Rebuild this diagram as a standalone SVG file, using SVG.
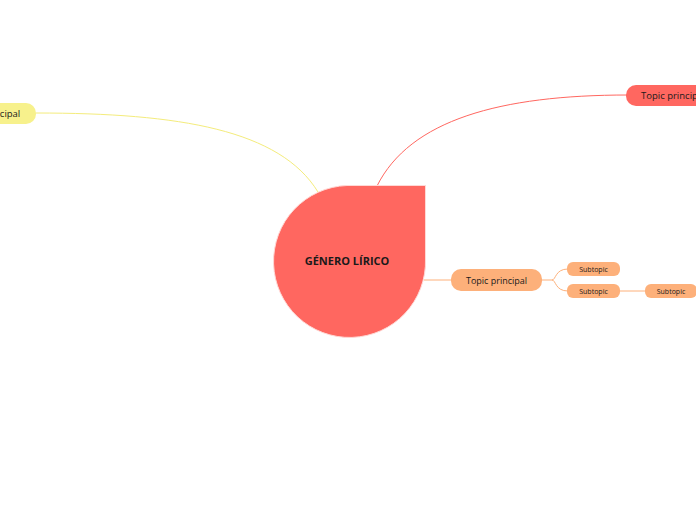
<svg xmlns="http://www.w3.org/2000/svg" width="696" height="520" viewBox="0 0 696 520">
<style>
text{font-family:"Open Sans","Noto Sans","Liberation Sans",sans-serif;fill:#1a1a1a}
.main{font-size:11px;font-weight:bold}
.topic{font-size:9px}
.sub{font-size:7px}
.c{fill:none;stroke-width:1}
</style>
<rect width="696" height="520" fill="#ffffff"/>
<g id="connectors">
<path class="c" stroke="#f4ec7c" d="M36 113 C180 113 280 130 318 192"/>
<path class="c" stroke="#ff6760" d="M377 186 C410 120 500 95 628 95"/>
<path class="c" stroke="#fdb07a" d="M424 280 L452 280"/>
<path class="c" stroke="#fdb07a" d="M541 280 L552 280 C556 280 555 269 568 269"/>
<path class="c" stroke="#fdb07a" d="M552 280 C556 280 555 291 568 291"/>
<path class="c" stroke="#fdb07a" d="M619 291 L646 291"/>
</g>
<g id="central">
<path d="M347 185.5 L425.5 185.5 L425.5 259 A76 76 0 1 1 347 185.5 Z" fill="#ff6760" stroke="#ffd9d6" stroke-width="1"/>
<text class="main" x="347" y="265" text-anchor="middle">GÉNERO LÍRICO</text>
</g>
<g id="topic-left">
<rect x="-60" y="103" width="96" height="21" rx="10" fill="#f7f18c"/>
<text class="topic" x="-12" y="116.5" text-anchor="middle" style="font-size:9.5px">Topic principal</text>
</g>
<g id="topic-right">
<rect x="626" y="85" width="110" height="21" rx="10" fill="#ff6760"/>
<text class="topic" x="641" y="98.5" style="font-size:9.5px">Topic principal</text>
</g>
<g id="topic-mid">
<rect x="451" y="269" width="91" height="22" rx="10" fill="#fdb07a"/>
<text class="topic" x="496.5" y="283.5" text-anchor="middle">Topic principal</text>
</g>
<g id="sub1">
<rect x="567" y="262" width="53" height="14" rx="6" fill="#fdb07a"/>
<text class="sub" x="593.5" y="271.5" text-anchor="middle">Subtopic</text>
</g>
<g id="sub2">
<rect x="567" y="284" width="53" height="14" rx="6" fill="#fdb07a"/>
<text class="sub" x="593.5" y="293.5" text-anchor="middle">Subtopic</text>
</g>
<g id="sub3">
<rect x="645" y="284" width="52" height="14" rx="6" fill="#fdb07a"/>
<text class="sub" x="671" y="293.5" text-anchor="middle">Subtopic</text>
</g>
</svg>
